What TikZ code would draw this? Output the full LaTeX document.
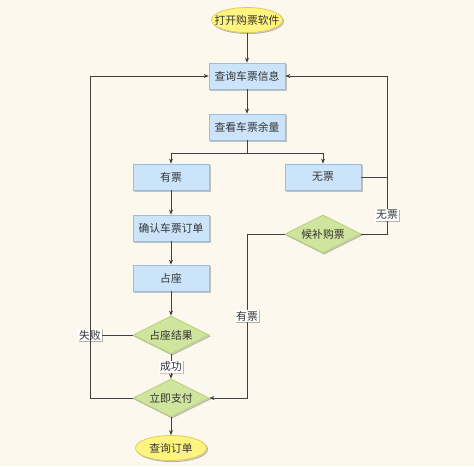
\documentclass[tikz,border=0pt]{standalone}
\usepackage{fontspec}
\setmainfont{Noto Sans CJK SC}
\usetikzlibrary{shapes.geometric,shadows,arrows.meta}
\definecolor{bgcol}{HTML}{FDF8EE}
\definecolor{boxfill}{HTML}{CCE4FA}
\definecolor{boxline}{HTML}{99BDE3}
\definecolor{condfill}{HTML}{CFE49C}
\definecolor{condline}{HTML}{B4CF78}
\definecolor{termfill}{HTML}{FFF47E}
\definecolor{termline}{HTML}{DCCB5A}
\definecolor{edgecol}{HTML}{404040}

\begin{document}
\begin{tikzpicture}[x=1pt,y=-1pt,
        every node/.style={font=\fontsize{10.8}{13}\selectfont,text=black!80},
        box/.style={rectangle,fill=boxfill,draw=boxline,minimum width=76pt,minimum height=26pt,
            drop shadow={shadow xshift=1.2pt,shadow yshift=-1.2pt,opacity=0.3}},
        cond/.style={diamond,aspect=2,inner sep=0pt,fill=condfill,draw=condline,
            minimum width=76pt,minimum height=38pt,
            drop shadow={shadow xshift=1.2pt,shadow yshift=-1.2pt,opacity=0.3}},
        term/.style={ellipse,inner xsep=-8pt,inner ysep=0pt,fill=termfill,draw=termline,
            minimum width=71pt,minimum height=25pt,
            drop shadow={shadow xshift=1.2pt,shadow yshift=-1.2pt,opacity=0.3}},
        lbl/.style={fill=white,inner sep=1pt,
            drop shadow={shadow xshift=0.8pt,shadow yshift=-0.8pt,opacity=0.25}},
        every path/.style={draw=edgecol,line width=0.75pt},
        >={Stealth[length=5pt,width=4pt]}]
    \fill[bgcol,draw=none] (0,0) rectangle (474,466);

    \node[term] (open) at (247,20) {打开购票软件};
    \node[box] (query) at (247,76) {查询车票信息};
    \node[box] (check) at (247,127) {查看车票余量};

    \node[box] (have) at (171,177) {有票};
    \node[box] (none) at (323,177) {无票};

    \node[box] (confirm) at (171,228) {确认车票订单};
    \node[box] (seat) at (171,278) {占座};
    \node[cond] (result) at (171,335) {占座结果};
    \node[cond] (pay) at (171,398) {立即支付};
    \node[term] (order) at (171,448) {查询订单};

    \node[cond] (wait) at (323,234) {候补购票};

    \coordinate (split) at (247,153);
    \coordinate (lt) at (90,76);
    \coordinate (rt) at (387,76);
    \coordinate (wb) at (247,398);

    \draw[->] (open) -- (query);
    \draw[->] (query) -- (check);
    \draw (check) -- (split);
    \draw[->] (split) -| (have);
    \draw[->] (split) -| (none);
    \draw[->] (have) -- (confirm);
    \draw[->] (confirm) -- (seat);
    \draw[->] (seat) -- (result);
    \draw[->] (result) -- node[lbl] {成功} (pay);
    \draw[->] (pay) -- (order);

    \draw[->] (result.west) -| node[lbl] {失败} (lt) -- (query.west);
    \draw (pay.west) -| (lt);
    \draw[->] (none.east) -| (rt) -- (query.east);
    \draw (wait.east) -| node[lbl,pos=0.56] {无票} (rt);
    \draw[->] (wait.west) -| node[lbl,pos=0.75] {有票} (wb) -- (pay.east);
\end{tikzpicture}
\end{document}
